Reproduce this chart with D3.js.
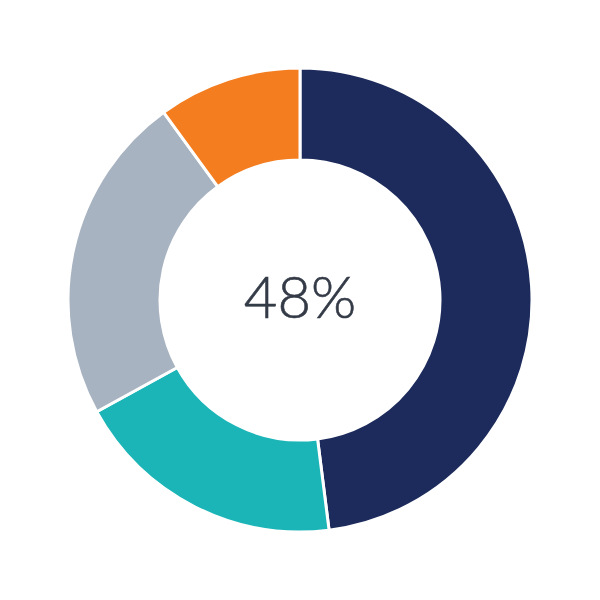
<!DOCTYPE html>
<html>
<head>
<meta charset="utf-8">
<script src="https://cdn.jsdelivr.net/npm/d3@7"></script>
<style>
  body { margin: 0; background: #fff; }
</style>
</head>
<body>
<svg id="chart"></svg>
<script>
    // segment data, clockwise from 12 o'clock
    var labels = ["Navy", "Teal", "Gray", "Orange"]
    var values = [48, 19, 23, 10]
    var colors = ["#1c2b5b", "#1bb5b8", "#a8b3c1", "#f47d20"]
    var centerLabel = "48%"

    var width = 600;
    var height = 600;
    var outerRadius = 232;
    var innerRadius = 140;

    var svg = d3.select("#chart")
      .attr("width", width)
      .attr("height", height)

    var g = svg.append("g")
      .attr("transform", `translate(${width / 2},${height / 2})`)

    var pie = d3.pie().sort(null).value(d => d.value)
    var arc = d3.arc().innerRadius(innerRadius).outerRadius(outerRadius)

    var data = labels.map((l, i) => ({label: l, value: values[i], color: colors[i]}))

    g.selectAll("path")
      .data(pie(data))
      .enter().append("path")
      .attr("d", arc)
      .attr("fill", d => d.data.color)
      .attr("stroke", "#fff")
      .attr("stroke-width", 3)

    // big number in the hole
    g.append("text")
      .attr("text-anchor", "middle")
      .attr("dy", "0.35em")
      .attr("y", -2)
      .style("font-family", "Lato, sans-serif")
      .style("font-weight", 300)
      .style("font-size", "58px")
      .attr("fill", "#343b47")
      .attr("stroke", "#343b47")
      .attr("stroke-width", 0.6)
      .text(centerLabel)
</script>
</body>
</html>
